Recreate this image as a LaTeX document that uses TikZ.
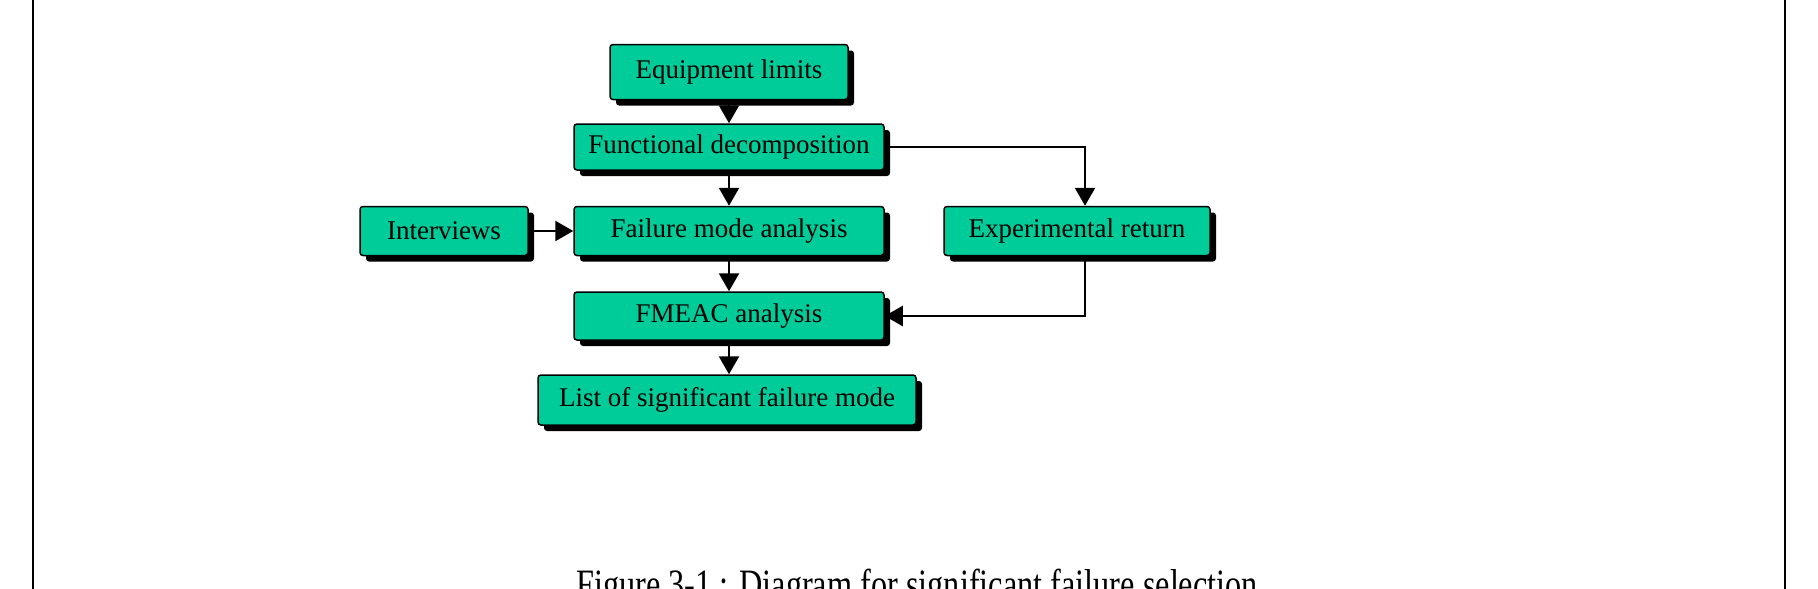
\documentclass[tikz,border=0pt]{standalone}
\usepackage{fontspec}
\setmainfont{Liberation Serif}
\usetikzlibrary{arrows.meta,shadows}
\definecolor{boxg}{HTML}{00CC99}
\tikzset{
  bx/.style={draw=black,line width=1.5pt,fill=boxg,rounded corners=3pt,inner sep=0pt,
    font=\fontsize{27}{30}\selectfont,
    drop shadow={shadow xshift=6pt,shadow yshift=-6pt,fill=black,opacity=1}},
  ar/.style={line width=2.5pt,-{Triangle[length=18pt,width=20pt]}}
}
\begin{document}
\begin{tikzpicture}[x=1pt,y=-1pt]
\useasboundingbox (0,0) rectangle (1818,589);
\clip (0,0) rectangle (1818,589);
\draw[line width=2pt] (33,0) -- (33,589);
\draw[line width=2pt] (1785,0) -- (1785,589);
\node[bx,minimum width=238pt,minimum height=55pt] (eq) at (729,72) {Equipment limits};
\node[bx,minimum width=310pt,minimum height=46pt] (fd) at (729,147) {Functional decomposition};
\node[bx,minimum width=168pt,minimum height=49pt] (iv) at (444,231) {Interviews};
\node[bx,minimum width=310pt,minimum height=49pt] (fm) at (729,231) {Failure mode analysis};
\node[bx,minimum width=266pt,minimum height=49pt] (er) at (1077,231) {Experimental return};
\node[bx,minimum width=310pt,minimum height=48pt] (fa) at (729,316) {FMEAC analysis};
\node[bx,minimum width=378pt,minimum height=50pt] (ls) at (727,400) {List of significant failure mode};
\draw[ar] (eq.south -| fd.north) -- (fd.north);
\draw[ar] (fd) -- (fm);
\draw[ar] (fm) -- (fa);
\draw[ar] (fa.south) -- (fa.south |- ls.north);
\draw[ar] (iv) -- (fm);
\draw[ar] (fd.east) -| (er.north -| 1085,0);
\draw[ar] (er.south -| 1085,0) |- (fa.east);
\node[font=\fontsize{38}{40}\selectfont,anchor=base] (cap) at (917,598) {\scalebox{0.85}[1.1]{Figure 3-1 : Diagram for significant failure selection}};
\end{tikzpicture}
\end{document}
